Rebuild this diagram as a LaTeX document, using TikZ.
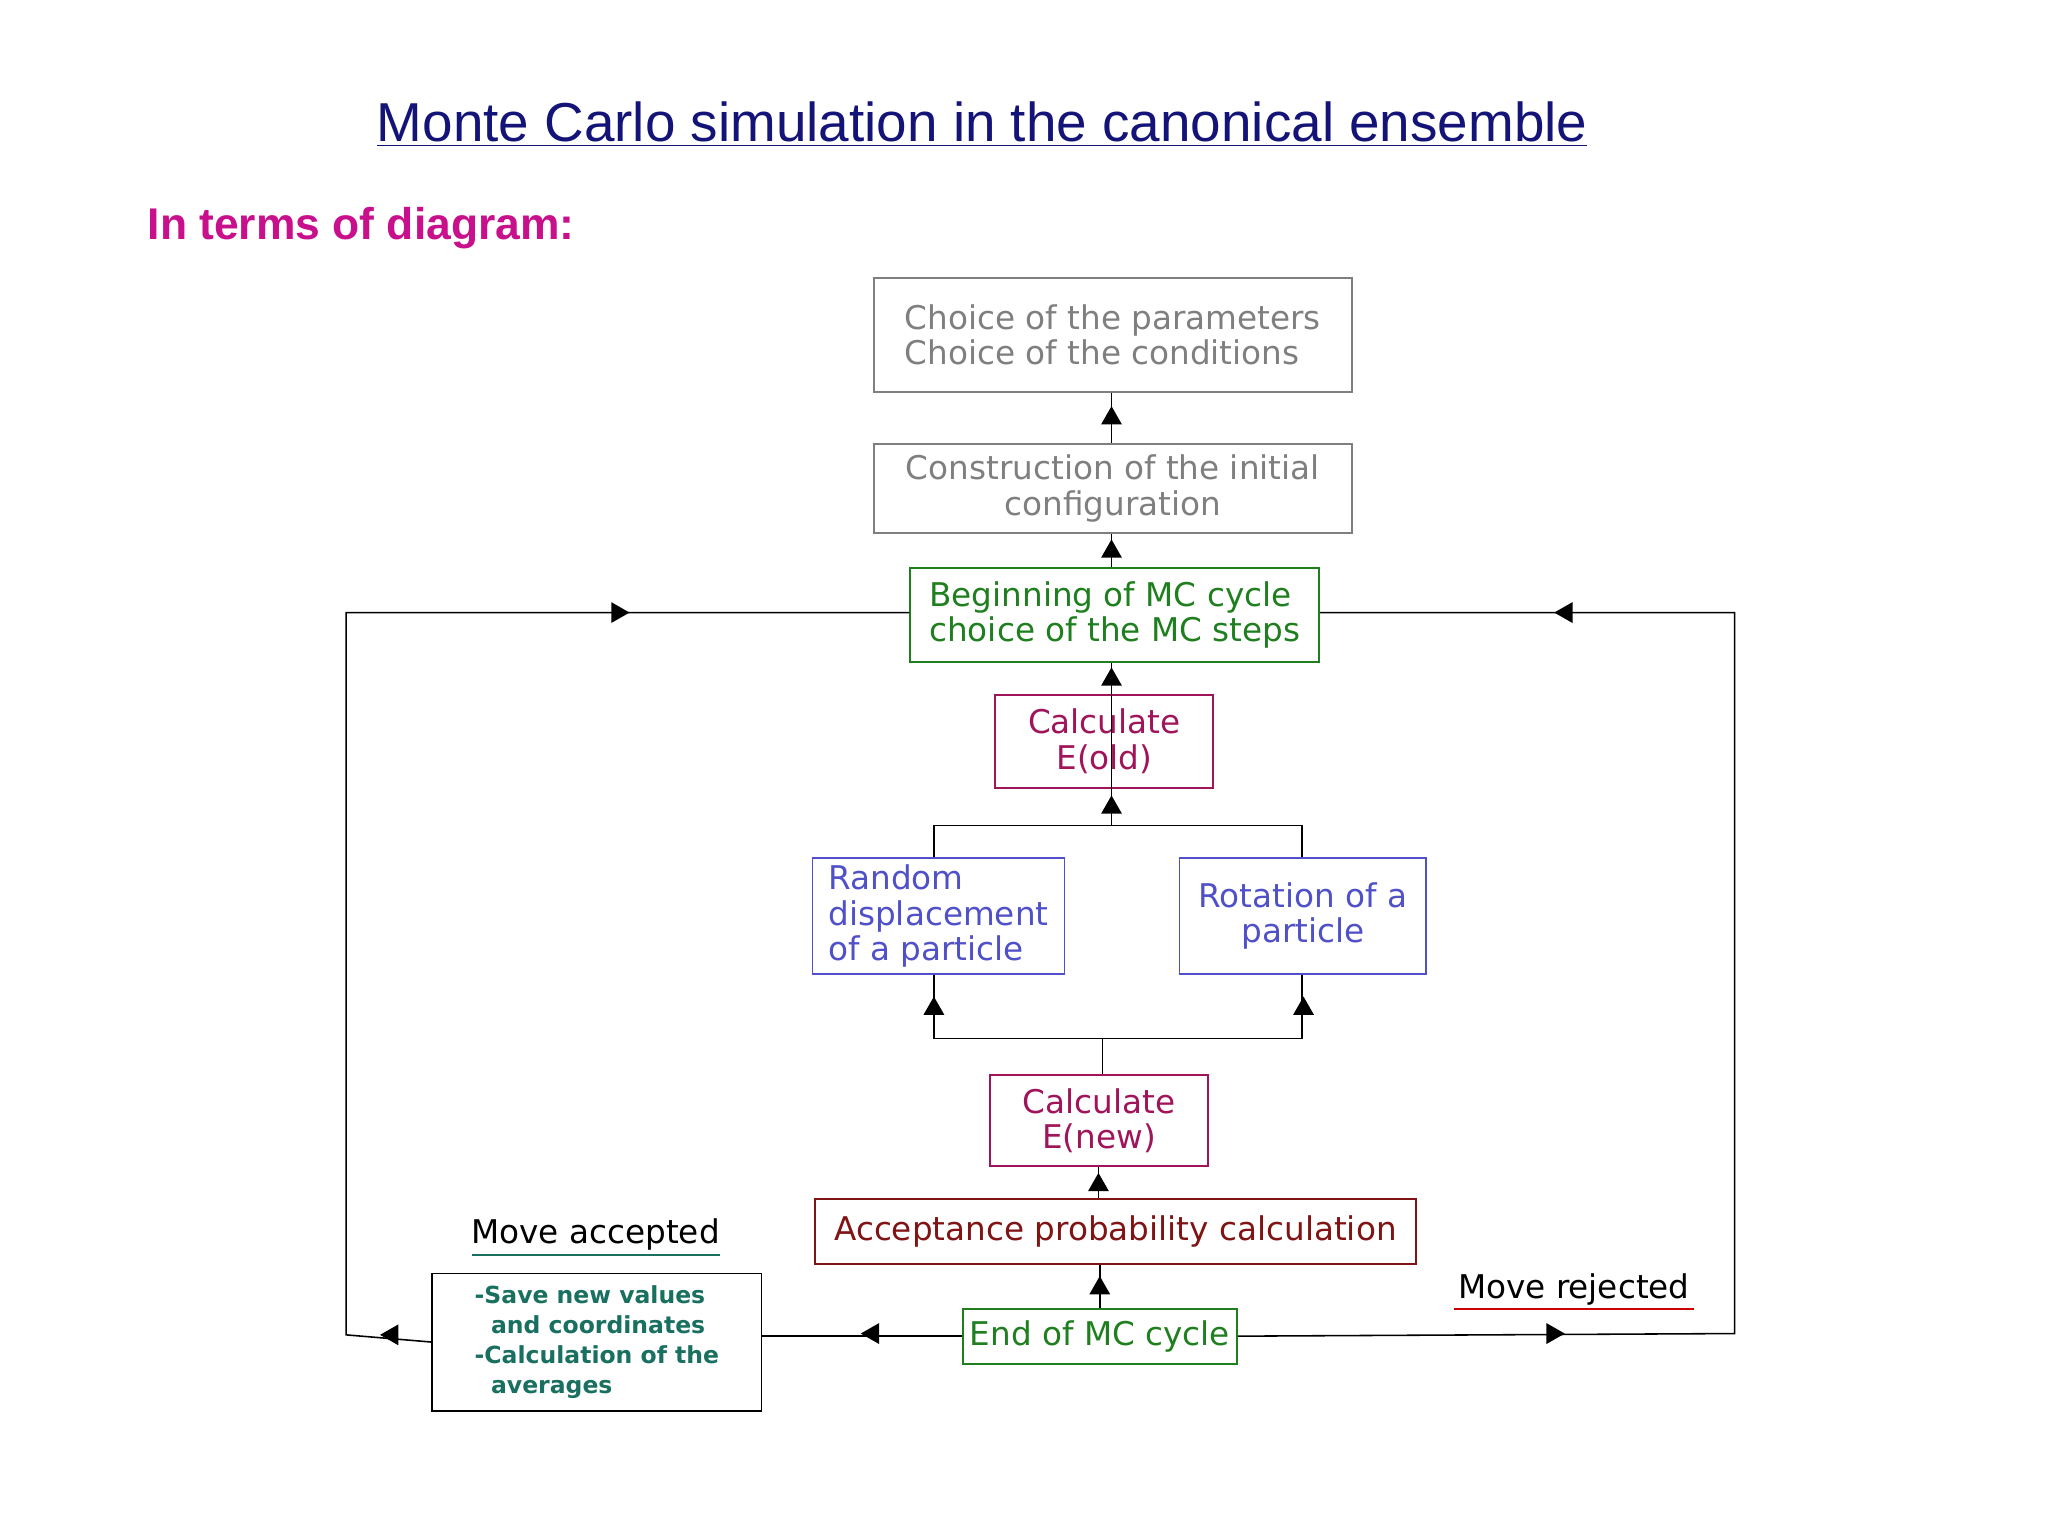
\documentclass[tikz,border=0pt]{standalone}
\usepackage{fontspec}
\setmainfont{DejaVu Sans}
\newfontfamily\titlefont{Liberation Sans}
\newcommand{\tri}[3]{\fill[rotate around={#3:(#1,#2)}] (#1+8,#2) -- (#1-6,#2-8) -- (#1-6,#2+8) -- cycle;}
\definecolor{cgray}{HTML}{7F7F7F}
\definecolor{cgreen}{HTML}{1F7F1F}
\definecolor{cmag}{HTML}{A0145A}
\definecolor{cblue}{HTML}{5050C8}
\definecolor{cdred}{HTML}{801414}
\definecolor{cteal}{HTML}{1A7060}
\definecolor{cnavy}{HTML}{141478}
\definecolor{cpink}{HTML}{C8108C}
\begin{document}
\begin{tikzpicture}[x=0.5pt,y=-0.5pt,
  bx/.style={draw,line width=0.7pt,inner sep=0pt,font=\fontsize{12.5}{13.5}\selectfont},
  ln/.style={line width=0.6pt}]
\useasboundingbox (0,0) rectangle (1568,1176);
\node (title) at (752,95) {\titlefont\fontsize{21}{24}\selectfont\color{cnavy}\underline{Monte Carlo simulation in the canonical ensemble}};
\node[anchor=west] (sub) at (106,175) {\titlefont\bfseries\fontsize{17}{20}\selectfont\color{cpink}In terms of diagram:};
\node[bx,draw=cgray,text=cgray,minimum width=183pt,minimum height=43.5pt,align=left] (b1) at (852,256.5) {Choice of the parameters\\Choice of the conditions};
\node[bx,draw=cgray,text=cgray,minimum width=183pt,minimum height=34pt,align=center] (b2) at (852,374) {Construction of the initial\\configuration};
\node[bx,draw=cgreen,text=cgreen,minimum width=156.5pt,minimum height=36pt,align=left] (b3) at (853.5,471) {Beginning of MC cycle\\choice of the MC steps};
\node[bx,draw=cmag,text=cmag,minimum width=83.5pt,minimum height=35.5pt,align=center] (b4) at (845.5,567.5) {Calculate\\E(old)};
\node[bx,draw=cblue,text=cblue,minimum width=96.5pt,minimum height=44.5pt,align=left] (b5) at (718.5,701.5) {Random\\displacement\\of a particle};
\node[bx,draw=cblue,text=cblue,minimum width=94.5pt,minimum height=44.5pt,align=center] (b6) at (997.5,701.5) {Rotation of a\\particle};
\node[bx,draw=cmag,text=cmag,minimum width=83.5pt,minimum height=35pt,align=center] (b7) at (841.5,858) {Calculate\\E(new)};
\node[bx,draw=cdred,text=cdred,minimum width=230pt,minimum height=25pt] (b8) at (854,943) {Acceptance probability calculation};
\node[bx,draw=cgreen,text=cgreen,minimum width=105pt,minimum height=21pt] (b9) at (842,1023) {End of MC cycle};
\node[bx,draw=black,text=cteal,minimum width=126pt,minimum height=52.5pt,align=left,font=\bfseries\fontsize{9}{11.5}\selectfont] (b10) at (457,1027.5) {-Save new values\\\ \ and coordinates\\-Calculation of the\\\ \ averages};
\node[font=\fontsize{12.5}{14}\selectfont] (acc) at (456,945) {Move accepted};
\draw[cteal,line width=0.6pt] (361,961) -- (551,961);
\node[font=\fontsize{12.5}{14}\selectfont] (rej) at (1205,987) {Move rejected};
\draw[red!80!black,line width=0.6pt] (1113,1002) -- (1297,1002);
% connectors
\draw[ln] (b1.south -| 851,0) -- (b2.north -| 851,0);
\draw[ln] (b2.south -| 851,0) -- (b3.north -| 851,0);
\draw[ln] (b3.south -| 851,0) -- (b4.south -| 851,0);
\draw[ln] (b4.south -| 851,0) -- (851,632) coordinate (sp);
\draw[ln] (sp) -| (b5.north -| 715,0);
\draw[ln] (sp) -| (b6.north -| 997,0);
\draw[ln] (b5.south -| 715,0) |- (844,795) coordinate (jn);
\draw[ln] (b6.south -| 997,0) |- (jn);
\draw[ln] (jn) -- (b7.north -| 844,0);
\draw[ln] (b7.south -| 841,0) -- (b8.north -| 841,0);
\draw[ln] (b8.south -| 842,0) -- (b9.north -| 842,0);
\draw[ln] (b9.west) -- (b10.east |- b9.west);
\draw[ln] (b9.east) -- (1328,1021) |- (b3.east |- 0,469);
\draw[ln] (b10.west) -- (265,1022) |- (b3.west |- 0,469);
% arrowheads
\tri{851}{319}{90}
\tri{851}{421}{90}
\tri{851}{519}{90}
\tri{851}{617}{90}
\tri{715}{771}{90}
\tri{998}{771}{90}
\tri{841}{906}{90}
\tri{842}{985}{90}
\tri{667}{1021}{180}
\tri{299}{1022}{180}
\tri{1190}{1021}{0}
\tri{474}{469}{0}
\tri{1198}{469}{180}
\end{tikzpicture}
\end{document}
